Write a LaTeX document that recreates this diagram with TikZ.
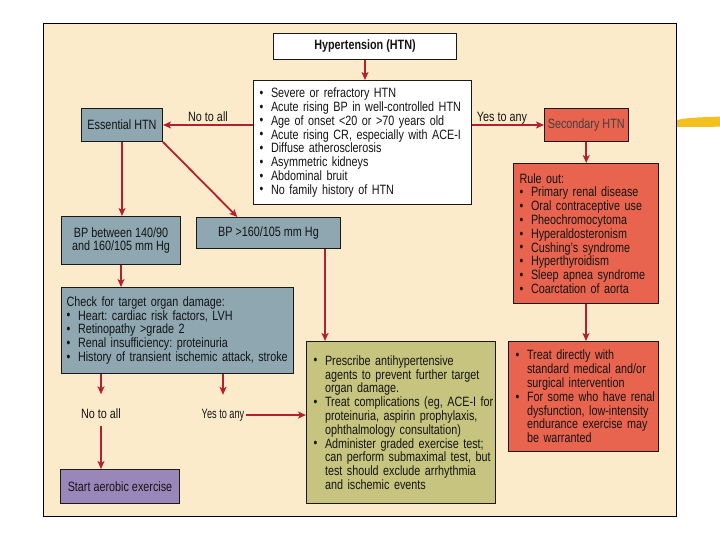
\documentclass[tikz,border=0pt]{standalone}
\usepackage{fontspec}
\setmainfont{Liberation Sans}[FakeStretch=0.8]
\newfontfamily\narrowfont{Liberation Sans}[FakeStretch=0.68]
\usetikzlibrary{arrows.meta,calc}
\frenchspacing
\definecolor{cream}{HTML}{FCEBCA}
\definecolor{bluegray}{HTML}{8EA7B1}
\definecolor{redbox}{HTML}{E8644E}
\definecolor{greenbox}{HTML}{C6C47E}
\definecolor{purplebox}{HTML}{9A87BA}
\definecolor{arrowred}{HTML}{B3202F}
\definecolor{brush}{HTML}{F4C020}
\newcommand{\fs}{\fontsize{13.5}{13.8}\selectfont}
\newcommand{\bl}[1]{\mbox{\makebox[11.5pt][l]{\raisebox{0.3pt}{\textbullet}}#1}}
\newcommand{\cl}[1]{\mbox{\hspace*{11.5pt}#1}}
\tikzset{
  box/.style={draw=black!90, line width=1pt, anchor=north west, font=\fs,
    inner ysep=0pt, text=black!92},
  lbl/.style={font=\fs, inner sep=2pt, anchor=base, text=black!92},
  arr/.style={draw=arrowred, line width=1.8pt,
    -{Stealth[length=8pt,width=7pt,inset=2pt]}}
}
\begin{document}
\begin{tikzpicture}[x=1pt,y=-1pt]
\useasboundingbox (0,0) rectangle (720,540);
% frame
\draw[line width=1pt, fill=cream] (43,24) rectangle (676,516);
% brush stroke
\fill[brush] (677,120) .. controls (690,117) and (705,117.5) .. (720,116.5)
  -- (720,126.5) .. controls (705,127.5) and (690,126.5) .. (677,127) -- cycle;

% nodes
\node[box, fill=white, minimum width=183pt, minimum height=26pt, align=center,
  font=\fs\bfseries] (htn) at (273,33) {Hypertension (HTN)};

\node[box, fill=white, minimum width=218pt, minimum height=124pt, inner xsep=6pt,
  text width=206pt, align=left] (crit) at (253,80) {%
\bl{Severe or refractory HTN}\\
\bl{Acute rising BP in well-controlled HTN}\\
\bl{Age of onset <20 or >70 years old}\\
\bl{Acute rising CR, especially with ACE-I}\\
\bl{Diffuse atherosclerosis}\\
\bl{Asymmetric kidneys}\\
\bl{Abdominal bruit}\\
\bl{No family history of HTN}};

\node[box, fill=bluegray, minimum width=81pt, minimum height=33pt, align=center]
  (ess) at (81,108) {Essential HTN};

\node[box, fill=redbox, minimum width=83pt, minimum height=33pt, align=center,
  text=black!75] (sec) at (544,108) {Secondary HTN};

\node[box, fill=redbox, minimum width=145pt, minimum height=140pt, inner xsep=6pt,
  text width=133pt, align=left] (rule) at (513,163) {%
\mbox{Rule out:}\\
\bl{Primary renal disease}\\
\bl{Oral contraceptive use}\\
\bl{Pheochromocytoma}\\
\bl{Hyperaldosteronism}\\
\bl{Cushing's syndrome}\\
\bl{Hyperthyroidism}\\
\bl{Sleep apnea syndrome}\\
\bl{Coarctation of aorta}};

\node[box, fill=bluegray, minimum width=119pt, minimum height=48pt, align=center]
  (bpb) at (61,216) {BP between 140/90\\and 160/105 mm Hg};

\node[box, fill=bluegray, minimum width=144pt, minimum height=31pt, align=center]
  (bph) at (196,217) {BP >160/105 mm Hg};

\node[box, fill=bluegray, minimum width=232pt, minimum height=86pt, inner xsep=5pt,
  text width=222pt, align=left] (chk) at (61,287) {%
\mbox{Check for target organ damage:}\\
\bl{Heart: cardiac risk factors, LVH}\\
\bl{Retinopathy >grade 2}\\
\bl{Renal insufficiency: proteinuria}\\
\bl{History of transient ischemic attack, stroke}};

\node[box, fill=greenbox, minimum width=189pt, minimum height=162pt, inner xsep=7pt,
  text width=175pt, align=left] (grn) at (306,341) {%
\bl{Prescribe antihypertensive}\\
\cl{agents to prevent further target}\\
\cl{organ damage.}\\
\bl{Treat complications (eg, ACE-I for}\\
\cl{proteinuria, aspirin prophylaxis,}\\
\cl{ophthalmology consultation)}\\
\bl{Administer graded exercise test;}\\
\cl{can perform submaximal test, but}\\
\cl{test should exclude arrhythmia}\\
\cl{and ischemic events}};

\node[box, fill=redbox, minimum width=150pt, minimum height=110pt, inner xsep=7pt,
  text width=136pt, align=left] (red2) at (508,341) {%
\bl{Treat directly with}\\
\cl{standard medical and/or}\\
\cl{surgical intervention}\\
\bl{For some who have renal}\\
\cl{dysfunction, low-intensity}\\
\cl{endurance exercise may}\\
\cl{be warranted}};

\node[box, fill=purplebox, minimum width=119pt, minimum height=34pt, align=center]
  (start) at (60,469) {Start aerobic exercise};

% labels
\node[lbl] (noall1) at (208,122) {No to all};
\node[lbl] (yesany1) at (502,122) {Yes to any};
\node[lbl] (noall2) at (101,418.3) {No to all};
\node[lbl, font=\fs\narrowfont] (yesany2) at (223,418.3) {Yes to any};

% connectors
\draw[arr] (htn.south) -- (htn.south |- crit.north);
\draw[arr] (crit.west |- ess.east) -- (ess.east);
\draw[arr] (crit.east |- sec.west) -- (sec.west);
\draw[arr] (ess.south) -- (ess.south |- bpb.north);
\draw[arr] (ess.south east) -- ($(bph.north west)!0.285!(bph.north east)$);
\draw[arr] (sec.south) -- (sec.south |- rule.north);
\draw[arr] (bpb.south) -- (bpb.south |- chk.north);
\coordinate (bphdown) at ($(bph.south west)!0.89!(bph.south east)$);
\draw[arr] (bphdown) -- (bphdown |- grn.north);
\draw[arr] (rule.south) -- (rule.south |- red2.north);
\draw[arr] (noall2.north |- chk.south) -- ($(noall2.north)+(0,-12)$);
\draw[arr] (yesany2.north |- chk.south) -- ($(yesany2.north)+(0,-12)$);
\draw[arr] ($(noall2.south)+(0,5)$) -- (noall2.south |- start.north);
\draw[arr] (yesany2.east) -- (yesany2.east -| grn.west);
\end{tikzpicture}
\end{document}
